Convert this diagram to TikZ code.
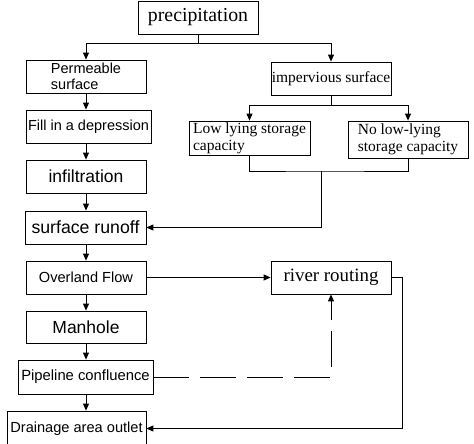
\documentclass[tikz,border=0pt]{standalone}
\usepackage{fontspec}
\setmainfont{Liberation Serif}
\setsansfont{Liberation Sans}
\usepackage{tikz}
\usetikzlibrary{positioning,arrows.meta}

\begin{document}
\begin{tikzpicture}[x=1pt, y=-1pt,
  box/.style={draw, line width=0.8pt, inner sep=0pt, minimum width=120pt, minimum height=33pt, align=center},
  sans/.style={font=\sffamily\fontsize{#1}{16}\selectfont},
  serif/.style={font=\rmfamily\fontsize{#1}{17}\selectfont},
  arr/.style={-{Triangle[length=7pt,width=6pt]}, line width=0.9pt},
  link/.style={line width=0.9pt}]

\useasboundingbox (0,0) rectangle (474,444);

% nodes %
\node[box, serif=19.8] (prec) at (198,17.5) {precipitation};
\node[box, sans=14.5, align=left] (perm) at (86,76.5) {Permeable\\surface};
\node[box, serif=15.5] (imp) at (331,78.5) {impervious surface};
\node[box, sans=14.5, minimum width=125pt] (fill) at (88.5,126.5) {Fill in a depression};
\node[box, serif=15.5, align=left, minimum width=121pt, minimum height=34pt] (low) at (249.5,138) {Low lying storage\\capacity};
\node[box, serif=15.5, align=left, minimum height=37pt] (nolow) at (408,139.5) {No low-lying\\storage capacity};
\node[box, sans=17.5] (inf) at (86,176.5) {infiltration};
\node[box, sans=17.7, minimum width=121pt] (runoff) at (85.5,227.5) {surface runoff};
\node[box, sans=14.6] (over) at (86,277.5) {Overland Flow};
\node[box, serif=18.9] (river) at (331,277.5) {river routing};
\node[box, sans=17.5, minimum height=32pt] (man) at (86,327) {Manhole};
\node[box, sans=14.8, minimum width=135pt, minimum height=34pt] (pipe) at (85.5,377) {Pipeline confluence};
\node[box, sans=14.6, minimum width=139pt, minimum height=35pt] (outlet) at (76.5,428.5) {Drainage area outlet};

\coordinate (split) at (198,43);
\coordinate (split2) at (331,105);
\coordinate (merge) at (321,171);

% edges %

%precipitation%
\draw[link] (prec) -- (split);
\draw[arr] (split) -| (perm);
\draw[arr] (split) -| (imp);

%impervious%
\draw[link] (imp) -- (split2);
\draw[arr] (split2) -| (low);
\draw[arr] (split2) -| (nolow);
\draw[link] (low) |- (merge) -| (nolow);
\draw[arr] (merge) |- (runoff);

%left column%
\draw[arr] (perm) -- (perm |- fill.north);
\draw[arr] (fill.south -| inf) -- (inf);
\draw[arr] (inf) -- (inf |- runoff.north);
\draw[arr] (runoff.south -| over) -- (over);
\draw[arr] (over) -- (man);
\draw[arr] (man) -- (man |- pipe.north);
\draw[arr] (pipe.south -| man) -- (man |- outlet.north);

%river%
\draw[arr] (over) -- (river);
\draw[arr] (river.east) -- ++(11,0) |- (outlet);
\draw[arr, dash pattern=on 36pt off 11pt] (pipe) -| (river);

\end{tikzpicture}
\end{document}
